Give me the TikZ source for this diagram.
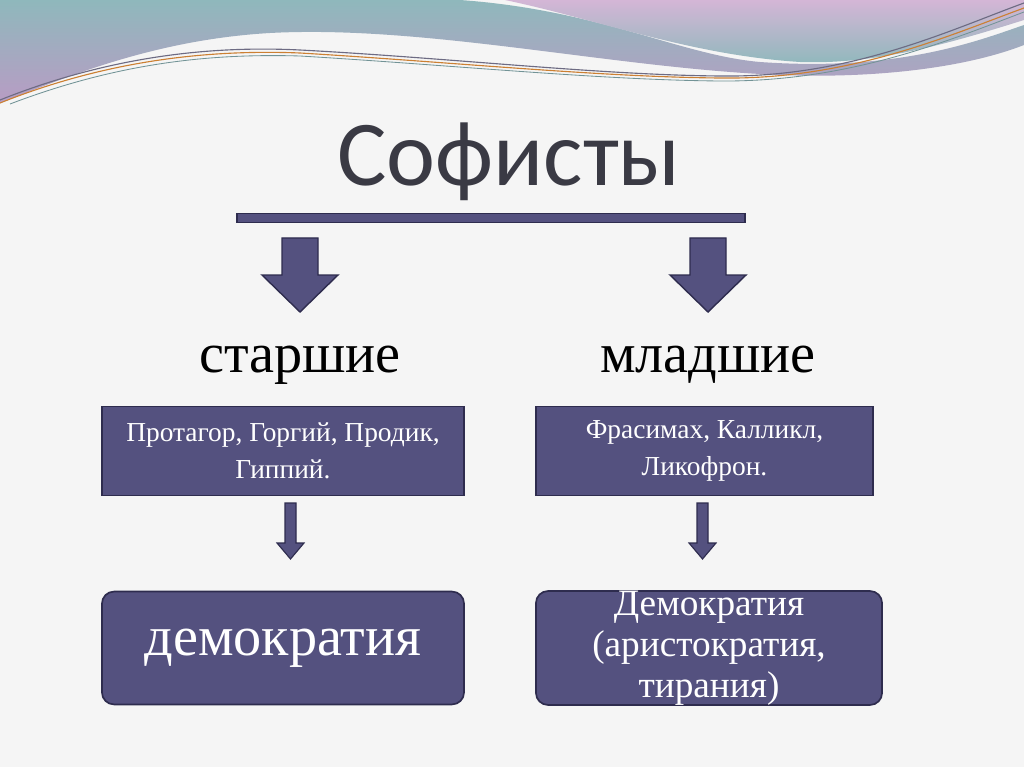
\documentclass[tikz,border=0pt]{standalone}
\usepackage{fontspec}
\setmainfont{Liberation Serif}
\newfontfamily\titlefont{Carlito}
\definecolor{boxc}{HTML}{54517F}
\definecolor{boxd}{HTML}{2E2C4E}
\definecolor{bg}{HTML}{F5F5F5}
\definecolor{teal}{HTML}{8FB8BC}
\definecolor{lila}{HTML}{B89CC4}
\definecolor{pink}{HTML}{D4B6D6}
\definecolor{titlec}{HTML}{3A3A44}
\tikzset{
 px/.style={x=0.025cm,y=-0.025cm},
 rbox/.style={draw=boxd,line width=1.2pt,fill=boxc,text=white,align=center,inner sep=0pt},
 bigarrow/.style={draw=boxd,line width=1pt,fill=boxc},
}
\begin{document}
\begin{tikzpicture}[px]
\fill[bg] (0,0) rectangle (1024,767);
\useasboundingbox (0,0) rectangle (1024,767);
% waves
\shade[top color=teal,bottom color=lila] (0,0) -- (460,0) .. controls (600,10) and (680,55) .. (760,62)
  .. controls (900,72) and (980,40) .. (1024,25) -- (1024,45) .. controls (960,70) and (860,80) .. (760,74)
  .. controls (600,65) and (420,25) .. (270,33) .. controls (150,40) and (60,80) .. (0,103) -- cycle;
\shade[top color=pink,bottom color=teal] (505,0) -- (1024,0) -- (1024,20) .. controls (960,40) and (880,65) .. (800,62)
  .. controls (690,55) and (600,20) .. (505,0) -- cycle;
\draw[boxd!70,line width=0.8pt] (0,100) .. controls (100,60) and (200,45) .. (300,50) .. controls (450,58) and (600,75) .. (720,76) .. controls (850,78) and (950,30) .. (1024,3);
\draw[brown!80!orange,line width=0.8pt] (0,103) .. controls (100,63) and (200,49) .. (300,53) .. controls (450,62) and (600,77) .. (720,78) .. controls (850,80) and (950,35) .. (1024,8);
\draw[teal!80!black,line width=0.6pt] (10,104) .. controls (110,66) and (200,53) .. (300,56) .. controls (450,65) and (600,80) .. (720,81) .. controls (850,82) and (950,40) .. (1024,12);
% title
\node[font=\titlefont\fontsize{66}{68}\selectfont,text=titlec] (title) at (509,162) {Софисты};
\node[draw=boxd,fill=boxc,line width=1pt,minimum width=12.7cm,minimum height=0.22cm,inner sep=0pt] (bar) at (491,218) {};
% big arrows
\draw[bigarrow] (282,238) -- (318,238) -- (318,275) -- (338,275) -- (300,312) -- (262,275) -- (282,275) -- cycle;
\draw[bigarrow] (690,238) -- (726,238) -- (726,275) -- (746,275) -- (708,312) -- (670,275) -- (690,275) -- cycle;
% labels
\node[font=\fontsize{40}{42}\selectfont] (s) at (300,365) {старшие};
\node[font=\fontsize{40}{42}\selectfont] (m) at (708,365) {младшие};
% boxes
\node[rbox,minimum width=9.05cm,minimum height=2.22cm,font=\fontsize{19.5}{26}\selectfont] (b1) at (283,451) {Протагор, Горгий, Продик,\\Гиппий.};
\node[rbox,minimum width=8.42cm,minimum height=2.22cm,font=\fontsize{19.5}{26}\selectfont] (b2) at (704.5,451) {Фрасимах, Калликл,\\Ликофрон.};
% small arrows
\draw[boxd,line width=0.8pt,fill=boxc] (285,503) -- (296,503) -- (296,543) -- (304,543) -- (290.5,559) -- (277,543) -- (285,543) -- cycle;
\draw[boxd,line width=0.8pt,fill=boxc] (697,503) -- (708,503) -- (708,543) -- (716,543) -- (702.5,559) -- (689,543) -- (697,543) -- cycle;
% bottom boxes
\node[rbox,rounded corners=0.3cm,minimum width=9.05cm,minimum height=2.82cm,font=\fontsize{40}{42}\selectfont] (c1) at (283,648) {демократия};
\node[rbox,rounded corners=0.3cm,minimum width=8.65cm,minimum height=2.82cm,font=\fontsize{26.5}{29}\selectfont] (c2) at (709,648) {Демократия\\(аристократия,\\тирания)};
\end{tikzpicture}
\end{document}
